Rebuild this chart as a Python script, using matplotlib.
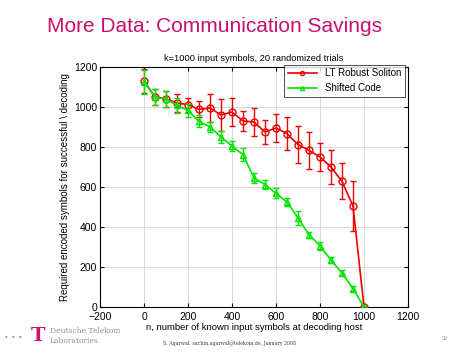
import numpy as np
import matplotlib
matplotlib.use("Agg")
import matplotlib.pyplot as plt

# n, number of known input symbols
n_known = [0, 50, 100, 150, 200, 250, 300, 350, 400, 450, 500,
           550, 600, 650, 700, 750, 800, 850, 900, 950, 1000]

# LT Robust Soliton: mean and error bar half-widths
lt_mean = [1130, 1050, 1040, 1020, 1012, 988, 995, 960, 975, 930, 925,
           875, 895, 867, 812, 783, 750, 700, 628, 505, 0]
lt_err = [60, 40, 38, 45, 35, 40, 70, 80, 72, 52, 70,
          60, 68, 83, 93, 92, 72, 83, 90, 125, 0]

# Shifted Code: mean and error bar half-widths
sh_mean = [1125, 1050, 1040, 1008, 983, 928, 900, 850, 805, 762, 645,
           612, 568, 525, 445, 362, 305, 235, 170, 92, 0]
sh_err = [62, 42, 40, 36, 33, 30, 27, 28, 25, 32, 25,
          22, 25, 20, 35, 15, 20, 15, 15, 12, 5]

xticks = [-200, 0, 200, 400, 600, 800, 1000, 1200]
yticks = [0, 200, 400, 600, 800, 1000, 1200]

plt.rcParams['font.family'] = ['Liberation Sans', 'DejaVu Sans']

fig = plt.figure(figsize=(4.74, 3.55), dpi=100)
ax = fig.add_axes([100 / 474, 1 - 307 / 355, 308 / 474, 240 / 355])

red = '#ee0000'
green = '#00e600'

ax.errorbar(n_known, lt_mean, yerr=lt_err, color=red, lw=1.2, marker='o',
            ms=5, mfc='none', mec=red, mew=1.0, capsize=2.5, elinewidth=1.0,
            label='LT Robust Soliton', zorder=3)
ax.errorbar(n_known, sh_mean, yerr=sh_err, color=green, lw=1.2, marker='^',
            ms=5, mfc='none', mec=green, mew=1.0, capsize=2.5, elinewidth=1.0,
            label='Shifted Code', zorder=4)

ax.set_xlim(-200, 1200)
ax.set_ylim(0, 1200)
ax.set_xticks(xticks)
ax.set_yticks(yticks)
ax.tick_params(direction='in', top=True, right=True, labelsize=7.5, length=3, pad=2)
ax.tick_params(axis='x', pad=3.5)
ax.grid(True, color='#d8d8d8', lw=0.7)
ax.set_axisbelow(True)
for s in ax.spines.values():
    s.set_linewidth(0.8)

ax.set_title('k=1000 input symbols, 20 randomized trials', fontsize=6.7, pad=4)
ax.set_xlabel('n, number of known input symbols at decoding host', fontsize=6.8, labelpad=1)
ax.set_ylabel('Required encoded symbols for successful \\ decoding', fontsize=7, labelpad=3)

handles, labels = ax.get_legend_handles_labels()
handles = [h[0] for h in handles]
leg = ax.legend(handles, labels, loc='upper right', fontsize=7, frameon=True,
                fancybox=False, edgecolor='black', bbox_to_anchor=(0.99, 1.01),
                borderaxespad=0.0, handlelength=3, markerscale=0.6)
leg.get_frame().set_linewidth(0.6)

# slide title
fig.text(47 / 474, 1 - 27 / 355, 'More Data: Communication Savings',
         fontsize=15, color='#c8106e', va='center', ha='left')

# footer
for dx in (6, 13, 20):
    fig.text(dx / 474, 1 - 336 / 355, '\u25a0', fontsize=3, color='#a0a0a0',
             ha='center', va='center')
fig.text(38 / 474, 1 - 336 / 355, 'T', fontsize=14, color='#d0106e',
         ha='center', va='center', fontweight='bold', family='DejaVu Serif')
fig.text(50 / 474, 1 - 331 / 355, 'Deutsche Telekom', fontsize=5.5,
         color='#909090', ha='left', va='center', family='DejaVu Serif')
fig.text(50 / 474, 1 - 341 / 355, 'Laboratories', fontsize=5.5,
         color='#909090', ha='left', va='center', family='DejaVu Serif')
fig.text(163 / 474, 1 - 343 / 355,
         'S. Agarwal, sachin.agarwal@telekom.de, January 2008', fontsize=3.4,
         color='#404040', ha='left', va='center', family='DejaVu Serif')
fig.text(445 / 474, 1 - 339 / 355, '32', fontsize=4, color='#909090',
         ha='center', va='center')

fig.savefig('out.png', dpi=100)
